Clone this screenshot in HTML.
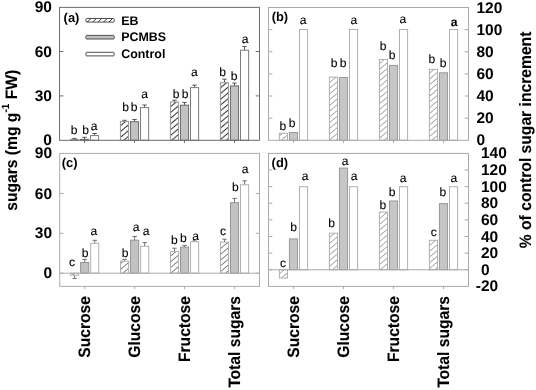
<!DOCTYPE html>
<html><head><meta charset="utf-8"><title>Sugars chart</title>
<style>html,body{margin:0;padding:0;background:#fff;}svg{display:block;font-family:"Liberation Sans", Arial, sans-serif;text-rendering:geometricPrecision;}</style></head>
<body><svg width="536" height="390" viewBox="0 0 536 390">
<rect width="536" height="390" fill="#fff"/>
<defs>
<pattern id="ha" width="4.4" height="4.4" patternUnits="userSpaceOnUse" patternTransform="rotate(-40)"><line x1="-1" y1="2.2" x2="6" y2="2.2" stroke="#333" stroke-width="1.05"/></pattern>
<pattern id="hc" width="4.4" height="4.4" patternUnits="userSpaceOnUse" patternTransform="rotate(-40)"><line x1="-1" y1="2.2" x2="6" y2="2.2" stroke="#707070" stroke-width="0.85"/></pattern>
<pattern id="hb" width="4.4" height="4.4" patternUnits="userSpaceOnUse" patternTransform="rotate(-40)"><line x1="-1" y1="2.2" x2="6" y2="2.2" stroke="#8a8a8a" stroke-width="0.7"/></pattern>
<pattern id="hl" width="3.8" height="3.8" patternUnits="userSpaceOnUse" patternTransform="rotate(-45)"><line x1="-1" y1="1.9" x2="5" y2="1.9" stroke="#333" stroke-width="1.0"/></pattern>
</defs>
<line x1="74.49" y1="139.40" x2="74.49" y2="138.40" stroke="#555" stroke-width="1.0"/>
<line x1="72.29" y1="138.40" x2="76.69" y2="138.40" stroke="#555" stroke-width="1.0"/>
<rect x="70.44" y="139.40" width="8.1" height="0.90" fill="#fff"/>
<rect x="70.44" y="139.40" width="8.1" height="0.90" fill="url(#ha)" stroke="#999" stroke-width="1.0"/>
<text x="74.20" y="133.60" font-size="12.1" text-anchor="middle" fill="#000" stroke="#000" stroke-width="0.1">b</text>
<line x1="84.54" y1="142.10" x2="84.54" y2="137.30" stroke="#555" stroke-width="1.0"/>
<line x1="82.34" y1="137.30" x2="86.74" y2="137.30" stroke="#555" stroke-width="1.0"/>
<rect x="80.49" y="139.40" width="8.1" height="0.90" fill="#c2c2c2" stroke="#6c6c6c" stroke-width="1.0"/>
<text x="85.50" y="133.60" font-size="12.1" text-anchor="middle" fill="#000" stroke="#000" stroke-width="0.1">b</text>
<line x1="94.59" y1="135.60" x2="94.59" y2="133.50" stroke="#555" stroke-width="1.0"/>
<line x1="92.39" y1="133.50" x2="96.79" y2="133.50" stroke="#555" stroke-width="1.0"/>
<rect x="90.54" y="135.60" width="8.1" height="4.70" fill="#fff" stroke="#7c7c7c" stroke-width="1.0"/>
<text x="94.00" y="129.50" font-size="12.1" text-anchor="middle" fill="#000" stroke="#000" stroke-width="0.1">a</text>
<line x1="124.48" y1="121.40" x2="124.48" y2="120.30" stroke="#555" stroke-width="1.0"/>
<line x1="122.28" y1="120.30" x2="126.68" y2="120.30" stroke="#555" stroke-width="1.0"/>
<rect x="120.43" y="121.40" width="8.1" height="18.90" fill="#fff"/>
<rect x="120.43" y="121.40" width="8.1" height="18.90" fill="url(#ha)" stroke="#999" stroke-width="1.0"/>
<text x="125.60" y="111.40" font-size="12.1" text-anchor="middle" fill="#000" stroke="#000" stroke-width="0.1">b</text>
<line x1="134.53" y1="121.70" x2="134.53" y2="119.50" stroke="#555" stroke-width="1.0"/>
<line x1="132.33" y1="119.50" x2="136.73" y2="119.50" stroke="#555" stroke-width="1.0"/>
<rect x="130.48" y="121.70" width="8.1" height="18.60" fill="#c2c2c2" stroke="#6c6c6c" stroke-width="1.0"/>
<text x="134.10" y="111.40" font-size="12.1" text-anchor="middle" fill="#000" stroke="#000" stroke-width="0.1">b</text>
<line x1="144.58" y1="107.60" x2="144.58" y2="105.00" stroke="#555" stroke-width="1.0"/>
<line x1="142.38" y1="105.00" x2="146.78" y2="105.00" stroke="#555" stroke-width="1.0"/>
<rect x="140.53" y="107.60" width="8.1" height="32.70" fill="#fff" stroke="#7c7c7c" stroke-width="1.0"/>
<text x="144.50" y="98.20" font-size="12.1" text-anchor="middle" fill="#000" stroke="#000" stroke-width="0.1">a</text>
<line x1="174.47" y1="102.00" x2="174.47" y2="100.20" stroke="#555" stroke-width="1.0"/>
<line x1="172.27" y1="100.20" x2="176.67" y2="100.20" stroke="#555" stroke-width="1.0"/>
<rect x="170.42" y="102.00" width="8.1" height="38.30" fill="#fff"/>
<rect x="170.42" y="102.00" width="8.1" height="38.30" fill="url(#ha)" stroke="#999" stroke-width="1.0"/>
<text x="176.00" y="97.70" font-size="12.1" text-anchor="middle" fill="#000" stroke="#000" stroke-width="0.1">b</text>
<line x1="184.52" y1="105.20" x2="184.52" y2="102.40" stroke="#555" stroke-width="1.0"/>
<line x1="182.32" y1="102.40" x2="186.72" y2="102.40" stroke="#555" stroke-width="1.0"/>
<rect x="180.47" y="105.20" width="8.1" height="35.10" fill="#c2c2c2" stroke="#6c6c6c" stroke-width="1.0"/>
<text x="185.10" y="97.70" font-size="12.1" text-anchor="middle" fill="#000" stroke="#000" stroke-width="0.1">b</text>
<line x1="194.57" y1="87.60" x2="194.57" y2="85.10" stroke="#555" stroke-width="1.0"/>
<line x1="192.37" y1="85.10" x2="196.77" y2="85.10" stroke="#555" stroke-width="1.0"/>
<rect x="190.52" y="87.60" width="8.1" height="52.70" fill="#fff" stroke="#7c7c7c" stroke-width="1.0"/>
<text x="194.30" y="75.70" font-size="12.1" text-anchor="middle" fill="#000" stroke="#000" stroke-width="0.1">a</text>
<line x1="224.46" y1="82.70" x2="224.46" y2="79.20" stroke="#555" stroke-width="1.0"/>
<line x1="222.26" y1="79.20" x2="226.66" y2="79.20" stroke="#555" stroke-width="1.0"/>
<rect x="220.41" y="82.70" width="8.1" height="57.60" fill="#fff"/>
<rect x="220.41" y="82.70" width="8.1" height="57.60" fill="url(#ha)" stroke="#999" stroke-width="1.0"/>
<text x="222.70" y="75.70" font-size="12.1" text-anchor="middle" fill="#000" stroke="#000" stroke-width="0.1">b</text>
<line x1="234.51" y1="85.90" x2="234.51" y2="83.10" stroke="#555" stroke-width="1.0"/>
<line x1="232.31" y1="83.10" x2="236.71" y2="83.10" stroke="#555" stroke-width="1.0"/>
<rect x="230.46" y="85.90" width="8.1" height="54.40" fill="#c2c2c2" stroke="#6c6c6c" stroke-width="1.0"/>
<text x="234.00" y="80.20" font-size="12.1" text-anchor="middle" fill="#000" stroke="#000" stroke-width="0.1">b</text>
<line x1="244.56" y1="50.20" x2="244.56" y2="46.50" stroke="#555" stroke-width="1.0"/>
<line x1="242.36" y1="46.50" x2="246.76" y2="46.50" stroke="#555" stroke-width="1.0"/>
<rect x="240.51" y="50.20" width="8.1" height="90.10" fill="#fff" stroke="#7c7c7c" stroke-width="1.0"/>
<text x="245.00" y="42.70" font-size="12.1" text-anchor="middle" fill="#000" stroke="#000" stroke-width="0.1">a</text>
<rect x="59.55" y="7.4" width="199.95" height="132.90" fill="none" stroke="#6c6c6c" stroke-width="1.0"/>
<line x1="84.54" y1="140.3" x2="84.54" y2="142.9" stroke="#6c6c6c" stroke-width="1.0"/>
<line x1="134.53" y1="140.3" x2="134.53" y2="142.9" stroke="#6c6c6c" stroke-width="1.0"/>
<line x1="184.52" y1="140.3" x2="184.52" y2="142.9" stroke="#6c6c6c" stroke-width="1.0"/>
<line x1="234.51" y1="140.3" x2="234.51" y2="142.9" stroke="#6c6c6c" stroke-width="1.0"/>
<rect x="279.40" y="133.30" width="8.1" height="7.00" fill="#fff"/>
<rect x="279.40" y="133.30" width="8.1" height="7.00" fill="url(#hb)" stroke="#b0b0b0" stroke-width="1.0"/>
<text x="282.80" y="130.10" font-size="12.1" text-anchor="middle" fill="#000" stroke="#000" stroke-width="0.1">b</text>
<rect x="289.45" y="132.50" width="8.1" height="7.80" fill="#c6c6c6" stroke="#989898" stroke-width="1.0"/>
<text x="292.10" y="127.30" font-size="12.1" text-anchor="middle" fill="#000" stroke="#000" stroke-width="0.1">b</text>
<rect x="299.50" y="29.50" width="8.1" height="110.80" fill="#fff" stroke="#b0b0b0" stroke-width="1.0"/>
<text x="303.00" y="23.80" font-size="12.1" text-anchor="middle" fill="#000" stroke="#000" stroke-width="0.1">a</text>
<rect x="329.40" y="77.10" width="8.1" height="63.20" fill="#fff"/>
<rect x="329.40" y="77.10" width="8.1" height="63.20" fill="url(#hb)" stroke="#b0b0b0" stroke-width="1.0"/>
<text x="334.00" y="67.10" font-size="12.1" text-anchor="middle" fill="#000" stroke="#000" stroke-width="0.1">b</text>
<rect x="339.45" y="77.50" width="8.1" height="62.80" fill="#c6c6c6" stroke="#989898" stroke-width="1.0"/>
<text x="343.20" y="67.10" font-size="12.1" text-anchor="middle" fill="#000" stroke="#000" stroke-width="0.1">b</text>
<rect x="349.50" y="29.50" width="8.1" height="110.80" fill="#fff" stroke="#b0b0b0" stroke-width="1.0"/>
<text x="353.90" y="23.80" font-size="12.1" text-anchor="middle" fill="#000" stroke="#000" stroke-width="0.1">a</text>
<rect x="379.40" y="59.50" width="8.1" height="80.80" fill="#fff"/>
<rect x="379.40" y="59.50" width="8.1" height="80.80" fill="url(#hb)" stroke="#b0b0b0" stroke-width="1.0"/>
<text x="383.00" y="49.90" font-size="12.1" text-anchor="middle" fill="#000" stroke="#000" stroke-width="0.1">b</text>
<rect x="389.45" y="65.40" width="8.1" height="74.90" fill="#c6c6c6" stroke="#989898" stroke-width="1.0"/>
<text x="392.00" y="58.70" font-size="12.1" text-anchor="middle" fill="#000" stroke="#000" stroke-width="0.1">b</text>
<rect x="399.50" y="29.50" width="8.1" height="110.80" fill="#fff" stroke="#b0b0b0" stroke-width="1.0"/>
<text x="402.80" y="23.40" font-size="12.1" text-anchor="middle" fill="#000" stroke="#000" stroke-width="0.1">a</text>
<rect x="429.40" y="69.40" width="8.1" height="70.90" fill="#fff"/>
<rect x="429.40" y="69.40" width="8.1" height="70.90" fill="url(#hb)" stroke="#b0b0b0" stroke-width="1.0"/>
<text x="431.90" y="63.20" font-size="12.1" text-anchor="middle" fill="#000" stroke="#000" stroke-width="0.1">b</text>
<rect x="439.45" y="72.80" width="8.1" height="67.50" fill="#c6c6c6" stroke="#989898" stroke-width="1.0"/>
<text x="443.00" y="66.70" font-size="12.1" text-anchor="middle" fill="#000" stroke="#000" stroke-width="0.1">b</text>
<rect x="449.50" y="29.50" width="8.1" height="110.80" fill="#fff" stroke="#b0b0b0" stroke-width="1.0"/>
<text x="454.00" y="25.60" font-size="12.1" text-anchor="middle" fill="#000" stroke="#000" stroke-width="0.1" font-weight="bold">a</text>
<rect x="268.5" y="7.5" width="200.00" height="132.80" fill="none" stroke="#a8a8a8" stroke-width="1.0"/>
<line x1="293.50" y1="140.3" x2="293.50" y2="142.9" stroke="#a8a8a8" stroke-width="1.0"/>
<line x1="343.50" y1="140.3" x2="343.50" y2="142.9" stroke="#a8a8a8" stroke-width="1.0"/>
<line x1="393.50" y1="140.3" x2="393.50" y2="142.9" stroke="#a8a8a8" stroke-width="1.0"/>
<line x1="443.50" y1="140.3" x2="443.50" y2="142.9" stroke="#a8a8a8" stroke-width="1.0"/>
<line x1="74.63" y1="275.20" x2="74.63" y2="278.40" stroke="#707070" stroke-width="1.0"/>
<line x1="72.43" y1="278.40" x2="76.83" y2="278.40" stroke="#707070" stroke-width="1.0"/>
<rect x="70.58" y="273.20" width="8.1" height="2.00" fill="#fff"/>
<rect x="70.58" y="273.20" width="8.1" height="2.00" fill="url(#hc)" stroke="#b0b0b0" stroke-width="1.0"/>
<text x="71.90" y="265.90" font-size="12.1" text-anchor="middle" fill="#000" stroke="#000" stroke-width="0.1">c</text>
<line x1="84.68" y1="262.50" x2="84.68" y2="259.50" stroke="#707070" stroke-width="1.0"/>
<line x1="82.48" y1="259.50" x2="86.88" y2="259.50" stroke="#707070" stroke-width="1.0"/>
<rect x="80.63" y="262.50" width="8.1" height="10.70" fill="#c2c2c2" stroke="#959595" stroke-width="1.0"/>
<text x="85.20" y="257.30" font-size="12.1" text-anchor="middle" fill="#000" stroke="#000" stroke-width="0.1">b</text>
<line x1="94.73" y1="243.30" x2="94.73" y2="240.30" stroke="#707070" stroke-width="1.0"/>
<line x1="92.53" y1="240.30" x2="96.93" y2="240.30" stroke="#707070" stroke-width="1.0"/>
<rect x="90.68" y="243.30" width="8.1" height="29.90" fill="#fff" stroke="#b0b0b0" stroke-width="1.0"/>
<text x="93.90" y="235.20" font-size="12.1" text-anchor="middle" fill="#000" stroke="#000" stroke-width="0.1">a</text>
<line x1="124.58" y1="261.20" x2="124.58" y2="259.40" stroke="#707070" stroke-width="1.0"/>
<line x1="122.38" y1="259.40" x2="126.78" y2="259.40" stroke="#707070" stroke-width="1.0"/>
<rect x="120.53" y="261.20" width="8.1" height="12.00" fill="#fff"/>
<rect x="120.53" y="261.20" width="8.1" height="12.00" fill="url(#hc)" stroke="#b0b0b0" stroke-width="1.0"/>
<text x="125.00" y="257.20" font-size="12.1" text-anchor="middle" fill="#000" stroke="#000" stroke-width="0.1">b</text>
<line x1="134.62" y1="240.20" x2="134.62" y2="236.50" stroke="#707070" stroke-width="1.0"/>
<line x1="132.43" y1="236.50" x2="136.82" y2="236.50" stroke="#707070" stroke-width="1.0"/>
<rect x="130.57" y="240.20" width="8.1" height="33.00" fill="#c2c2c2" stroke="#959595" stroke-width="1.0"/>
<text x="136.20" y="231.10" font-size="12.1" text-anchor="middle" fill="#000" stroke="#000" stroke-width="0.1">a</text>
<line x1="144.68" y1="246.20" x2="144.68" y2="242.60" stroke="#707070" stroke-width="1.0"/>
<line x1="142.48" y1="242.60" x2="146.88" y2="242.60" stroke="#707070" stroke-width="1.0"/>
<rect x="140.62" y="246.20" width="8.1" height="27.00" fill="#fff" stroke="#b0b0b0" stroke-width="1.0"/>
<text x="146.00" y="235.30" font-size="12.1" text-anchor="middle" fill="#000" stroke="#000" stroke-width="0.1">a</text>
<line x1="174.52" y1="251.40" x2="174.52" y2="248.20" stroke="#707070" stroke-width="1.0"/>
<line x1="172.32" y1="248.20" x2="176.72" y2="248.20" stroke="#707070" stroke-width="1.0"/>
<rect x="170.47" y="251.40" width="8.1" height="21.80" fill="#fff"/>
<rect x="170.47" y="251.40" width="8.1" height="21.80" fill="url(#hc)" stroke="#b0b0b0" stroke-width="1.0"/>
<text x="174.30" y="244.10" font-size="12.1" text-anchor="middle" fill="#000" stroke="#000" stroke-width="0.1">b</text>
<line x1="184.57" y1="247.10" x2="184.57" y2="245.40" stroke="#707070" stroke-width="1.0"/>
<line x1="182.38" y1="245.40" x2="186.77" y2="245.40" stroke="#707070" stroke-width="1.0"/>
<rect x="180.52" y="247.10" width="8.1" height="26.10" fill="#c2c2c2" stroke="#959595" stroke-width="1.0"/>
<text x="183.30" y="241.70" font-size="12.1" text-anchor="middle" fill="#000" stroke="#000" stroke-width="0.1">b</text>
<line x1="194.62" y1="241.70" x2="194.62" y2="241.00" stroke="#707070" stroke-width="1.0"/>
<line x1="192.43" y1="241.00" x2="196.82" y2="241.00" stroke="#707070" stroke-width="1.0"/>
<rect x="190.57" y="241.70" width="8.1" height="31.50" fill="#fff" stroke="#b0b0b0" stroke-width="1.0"/>
<text x="195.50" y="239.80" font-size="12.1" text-anchor="middle" fill="#000" stroke="#000" stroke-width="0.1">a</text>
<line x1="224.48" y1="242.10" x2="224.48" y2="239.20" stroke="#707070" stroke-width="1.0"/>
<line x1="222.28" y1="239.20" x2="226.68" y2="239.20" stroke="#707070" stroke-width="1.0"/>
<rect x="220.43" y="242.10" width="8.1" height="31.10" fill="#fff"/>
<rect x="220.43" y="242.10" width="8.1" height="31.10" fill="url(#hc)" stroke="#b0b0b0" stroke-width="1.0"/>
<text x="222.90" y="235.00" font-size="12.1" text-anchor="middle" fill="#000" stroke="#000" stroke-width="0.1">c</text>
<line x1="234.53" y1="202.70" x2="234.53" y2="198.40" stroke="#707070" stroke-width="1.0"/>
<line x1="232.33" y1="198.40" x2="236.73" y2="198.40" stroke="#707070" stroke-width="1.0"/>
<rect x="230.48" y="202.70" width="8.1" height="70.50" fill="#c2c2c2" stroke="#959595" stroke-width="1.0"/>
<text x="235.40" y="191.40" font-size="12.1" text-anchor="middle" fill="#000" stroke="#000" stroke-width="0.1">b</text>
<line x1="244.58" y1="184.80" x2="244.58" y2="180.80" stroke="#707070" stroke-width="1.0"/>
<line x1="242.38" y1="180.80" x2="246.78" y2="180.80" stroke="#707070" stroke-width="1.0"/>
<rect x="240.53" y="184.80" width="8.1" height="88.40" fill="#fff" stroke="#b0b0b0" stroke-width="1.0"/>
<text x="245.20" y="173.30" font-size="12.1" text-anchor="middle" fill="#000" stroke="#000" stroke-width="0.1">a</text>
<rect x="59.7" y="153.4" width="199.80" height="133.00" fill="none" stroke="#acacac" stroke-width="1.0"/>
<line x1="59.7" y1="273.2" x2="259.5" y2="273.2" stroke="#acacac" stroke-width="1.0"/>
<line x1="84.68" y1="286.4" x2="84.68" y2="289.0" stroke="#acacac" stroke-width="1.0"/>
<line x1="134.62" y1="286.4" x2="134.62" y2="289.0" stroke="#acacac" stroke-width="1.0"/>
<line x1="184.57" y1="286.4" x2="184.57" y2="289.0" stroke="#acacac" stroke-width="1.0"/>
<line x1="234.53" y1="286.4" x2="234.53" y2="289.0" stroke="#acacac" stroke-width="1.0"/>
<rect x="279.40" y="269.75" width="8.1" height="8.25" fill="#fff"/>
<rect x="279.40" y="269.75" width="8.1" height="8.25" fill="url(#hb)" stroke="#b0b0b0" stroke-width="1.0"/>
<text x="283.00" y="266.80" font-size="12.1" text-anchor="middle" fill="#000" stroke="#000" stroke-width="0.1">c</text>
<rect x="289.45" y="238.90" width="8.1" height="30.85" fill="#c6c6c6" stroke="#989898" stroke-width="1.0"/>
<text x="293.60" y="230.90" font-size="12.1" text-anchor="middle" fill="#000" stroke="#000" stroke-width="0.1">b</text>
<rect x="299.50" y="186.70" width="8.1" height="83.05" fill="#fff" stroke="#b0b0b0" stroke-width="1.0"/>
<text x="305.10" y="180.10" font-size="12.1" text-anchor="middle" fill="#000" stroke="#000" stroke-width="0.1">a</text>
<rect x="329.40" y="233.20" width="8.1" height="36.55" fill="#fff"/>
<rect x="329.40" y="233.20" width="8.1" height="36.55" fill="url(#hb)" stroke="#b0b0b0" stroke-width="1.0"/>
<text x="331.50" y="226.80" font-size="12.1" text-anchor="middle" fill="#000" stroke="#000" stroke-width="0.1">b</text>
<rect x="339.45" y="168.10" width="8.1" height="101.65" fill="#c6c6c6" stroke="#989898" stroke-width="1.0"/>
<text x="345.00" y="164.60" font-size="12.1" text-anchor="middle" fill="#000" stroke="#000" stroke-width="0.1">a</text>
<rect x="349.50" y="186.70" width="8.1" height="83.05" fill="#fff" stroke="#b0b0b0" stroke-width="1.0"/>
<text x="354.20" y="180.10" font-size="12.1" text-anchor="middle" fill="#000" stroke="#000" stroke-width="0.1">a</text>
<rect x="379.40" y="212.10" width="8.1" height="57.65" fill="#fff"/>
<rect x="379.40" y="212.10" width="8.1" height="57.65" fill="url(#hb)" stroke="#b0b0b0" stroke-width="1.0"/>
<text x="382.80" y="208.50" font-size="12.1" text-anchor="middle" fill="#000" stroke="#000" stroke-width="0.1">b</text>
<rect x="389.45" y="201.00" width="8.1" height="68.75" fill="#c6c6c6" stroke="#989898" stroke-width="1.0"/>
<text x="392.00" y="196.00" font-size="12.1" text-anchor="middle" fill="#000" stroke="#000" stroke-width="0.1">b</text>
<rect x="399.50" y="186.70" width="8.1" height="83.05" fill="#fff" stroke="#b0b0b0" stroke-width="1.0"/>
<text x="403.00" y="182.40" font-size="12.1" text-anchor="middle" fill="#000" stroke="#000" stroke-width="0.1">a</text>
<rect x="429.40" y="240.30" width="8.1" height="29.45" fill="#fff"/>
<rect x="429.40" y="240.30" width="8.1" height="29.45" fill="url(#hb)" stroke="#b0b0b0" stroke-width="1.0"/>
<text x="433.70" y="235.50" font-size="12.1" text-anchor="middle" fill="#000" stroke="#000" stroke-width="0.1">c</text>
<rect x="439.45" y="203.60" width="8.1" height="66.15" fill="#c6c6c6" stroke="#989898" stroke-width="1.0"/>
<text x="442.90" y="196.00" font-size="12.1" text-anchor="middle" fill="#000" stroke="#000" stroke-width="0.1">b</text>
<rect x="449.50" y="186.70" width="8.1" height="83.05" fill="#fff" stroke="#b0b0b0" stroke-width="1.0"/>
<text x="453.90" y="182.40" font-size="12.1" text-anchor="middle" fill="#000" stroke="#000" stroke-width="0.1">a</text>
<rect x="268.5" y="153.4" width="200.00" height="133.00" fill="none" stroke="#a8a8a8" stroke-width="1.0"/>
<line x1="268.5" y1="269.75" x2="468.5" y2="269.75" stroke="#a8a8a8" stroke-width="1.0"/>
<line x1="293.50" y1="286.4" x2="293.50" y2="289.0" stroke="#a8a8a8" stroke-width="1.0"/>
<line x1="343.50" y1="286.4" x2="343.50" y2="289.0" stroke="#a8a8a8" stroke-width="1.0"/>
<line x1="393.50" y1="286.4" x2="393.50" y2="289.0" stroke="#a8a8a8" stroke-width="1.0"/>
<line x1="443.50" y1="286.4" x2="443.50" y2="289.0" stroke="#a8a8a8" stroke-width="1.0"/>
<text x="51.95" y="145.35" font-size="15.5" font-weight="bold" text-anchor="end">0</text>
<line x1="59.55" y1="95.90" x2="63.349999999999994" y2="95.90" stroke="#6c6c6c" stroke-width="1.0"/>
<line x1="259.5" y1="95.90" x2="255.7" y2="95.90" stroke="#6c6c6c" stroke-width="1.0"/>
<text x="51.95" y="100.95" font-size="15.5" font-weight="bold" text-anchor="end">30</text>
<line x1="59.55" y1="51.50" x2="63.349999999999994" y2="51.50" stroke="#6c6c6c" stroke-width="1.0"/>
<line x1="259.5" y1="51.50" x2="255.7" y2="51.50" stroke="#6c6c6c" stroke-width="1.0"/>
<text x="51.95" y="56.55" font-size="15.5" font-weight="bold" text-anchor="end">60</text>
<text x="51.95" y="12.45" font-size="15.5" font-weight="bold" text-anchor="end">90</text>
<line x1="59.7" y1="273.20" x2="63.5" y2="273.20" stroke="#acacac" stroke-width="1.0"/>
<line x1="259.5" y1="273.20" x2="255.7" y2="273.20" stroke="#acacac" stroke-width="1.0"/>
<text x="52.10" y="278.25" font-size="15.5" font-weight="bold" text-anchor="end">0</text>
<line x1="59.7" y1="233.30" x2="63.5" y2="233.30" stroke="#acacac" stroke-width="1.0"/>
<line x1="259.5" y1="233.30" x2="255.7" y2="233.30" stroke="#acacac" stroke-width="1.0"/>
<text x="52.10" y="238.35" font-size="15.5" font-weight="bold" text-anchor="end">30</text>
<line x1="59.7" y1="193.50" x2="63.5" y2="193.50" stroke="#acacac" stroke-width="1.0"/>
<line x1="259.5" y1="193.50" x2="255.7" y2="193.50" stroke="#acacac" stroke-width="1.0"/>
<text x="52.10" y="198.55" font-size="15.5" font-weight="bold" text-anchor="end">60</text>
<text x="52.10" y="158.45" font-size="15.5" font-weight="bold" text-anchor="end">90</text>
<text x="476.50" y="145.35" font-size="15.5" font-weight="bold" text-anchor="start">0</text>
<line x1="268.5" y1="118.17" x2="272.3" y2="118.17" stroke="#a8a8a8" stroke-width="1.0"/>
<line x1="468.5" y1="118.17" x2="464.7" y2="118.17" stroke="#a8a8a8" stroke-width="1.0"/>
<text x="476.50" y="123.22" font-size="15.5" font-weight="bold" text-anchor="start">20</text>
<line x1="268.5" y1="96.03" x2="272.3" y2="96.03" stroke="#a8a8a8" stroke-width="1.0"/>
<line x1="468.5" y1="96.03" x2="464.7" y2="96.03" stroke="#a8a8a8" stroke-width="1.0"/>
<text x="476.50" y="101.08" font-size="15.5" font-weight="bold" text-anchor="start">40</text>
<line x1="268.5" y1="73.90" x2="272.3" y2="73.90" stroke="#a8a8a8" stroke-width="1.0"/>
<line x1="468.5" y1="73.90" x2="464.7" y2="73.90" stroke="#a8a8a8" stroke-width="1.0"/>
<text x="476.50" y="78.95" font-size="15.5" font-weight="bold" text-anchor="start">60</text>
<line x1="268.5" y1="51.76" x2="272.3" y2="51.76" stroke="#a8a8a8" stroke-width="1.0"/>
<line x1="468.5" y1="51.76" x2="464.7" y2="51.76" stroke="#a8a8a8" stroke-width="1.0"/>
<text x="476.50" y="56.81" font-size="15.5" font-weight="bold" text-anchor="start">80</text>
<line x1="268.5" y1="29.63" x2="272.3" y2="29.63" stroke="#a8a8a8" stroke-width="1.0"/>
<line x1="468.5" y1="29.63" x2="464.7" y2="29.63" stroke="#a8a8a8" stroke-width="1.0"/>
<text x="476.50" y="34.68" font-size="15.5" font-weight="bold" text-anchor="start">100</text>
<text x="476.50" y="12.55" font-size="15.5" font-weight="bold" text-anchor="start">120</text>
<text x="475.74" y="291.43" font-size="15.5" font-weight="bold" text-anchor="start">-20</text>
<line x1="268.5" y1="269.75" x2="272.3" y2="269.75" stroke="#a8a8a8" stroke-width="1.0"/>
<line x1="468.5" y1="269.75" x2="464.7" y2="269.75" stroke="#a8a8a8" stroke-width="1.0"/>
<text x="480.90" y="274.80" font-size="15.5" font-weight="bold" text-anchor="start">0</text>
<line x1="268.5" y1="253.12" x2="272.3" y2="253.12" stroke="#a8a8a8" stroke-width="1.0"/>
<line x1="468.5" y1="253.12" x2="464.7" y2="253.12" stroke="#a8a8a8" stroke-width="1.0"/>
<text x="480.90" y="258.18" font-size="15.5" font-weight="bold" text-anchor="start">20</text>
<line x1="268.5" y1="236.50" x2="272.3" y2="236.50" stroke="#a8a8a8" stroke-width="1.0"/>
<line x1="468.5" y1="236.50" x2="464.7" y2="236.50" stroke="#a8a8a8" stroke-width="1.0"/>
<text x="480.90" y="241.55" font-size="15.5" font-weight="bold" text-anchor="start">40</text>
<line x1="268.5" y1="219.88" x2="272.3" y2="219.88" stroke="#a8a8a8" stroke-width="1.0"/>
<line x1="468.5" y1="219.88" x2="464.7" y2="219.88" stroke="#a8a8a8" stroke-width="1.0"/>
<text x="480.90" y="224.93" font-size="15.5" font-weight="bold" text-anchor="start">60</text>
<line x1="268.5" y1="203.25" x2="272.3" y2="203.25" stroke="#a8a8a8" stroke-width="1.0"/>
<line x1="468.5" y1="203.25" x2="464.7" y2="203.25" stroke="#a8a8a8" stroke-width="1.0"/>
<text x="480.90" y="208.30" font-size="15.5" font-weight="bold" text-anchor="start">80</text>
<line x1="268.5" y1="186.62" x2="272.3" y2="186.62" stroke="#a8a8a8" stroke-width="1.0"/>
<line x1="468.5" y1="186.62" x2="464.7" y2="186.62" stroke="#a8a8a8" stroke-width="1.0"/>
<text x="480.90" y="191.68" font-size="15.5" font-weight="bold" text-anchor="start">100</text>
<line x1="268.5" y1="170.00" x2="272.3" y2="170.00" stroke="#a8a8a8" stroke-width="1.0"/>
<line x1="468.5" y1="170.00" x2="464.7" y2="170.00" stroke="#a8a8a8" stroke-width="1.0"/>
<text x="480.90" y="175.05" font-size="15.5" font-weight="bold" text-anchor="start">120</text>
<text x="480.90" y="158.43" font-size="15.5" font-weight="bold" text-anchor="start">140</text>
<text x="63.6" y="22" font-size="12.9" font-weight="bold">(a)</text>
<text x="271.7" y="20.5" font-size="12.9" font-weight="bold">(b)</text>
<text x="61.7" y="166.9" font-size="12.9" font-weight="bold">(c)</text>
<text x="271.6" y="167.0" font-size="12.9" font-weight="bold">(d)</text>
<clipPath id="lc"><rect x="85.9" y="18.5" width="28.3" height="3.6" rx="0.8"/></clipPath>
<rect x="85.9" y="18.50" width="28.3" height="3.6" rx="0.8" fill="#fff" stroke="#505050" stroke-width="1"/>
<path d="M81.20 22.80 l5 -5 M86.60 22.80 l5 -5 M92.00 22.80 l5 -5 M97.40 22.80 l5 -5 M102.80 22.80 l5 -5 M108.20 22.80 l5 -5 M113.60 22.80 l5 -5 " stroke="#2a2a2a" stroke-width="0.95" fill="none" clip-path="url(#lc)"/>
<text x="121.2" y="24.60" font-size="12.45" font-weight="bold">EB</text>
<rect x="85.9" y="35.40" width="28.3" height="3.6" rx="0.8" fill="#c2c2c2" stroke="#505050" stroke-width="1"/>
<text x="121.2" y="41.35" font-size="12.45" font-weight="bold">PCMBS</text>
<rect x="85.9" y="52.30" width="28.3" height="3.6" rx="0.8" fill="#fff" stroke="#505050" stroke-width="1"/>
<text x="121.2" y="58.10" font-size="12.45" font-weight="bold">Control</text>
<text transform="translate(89.98,296) rotate(-90) scale(1,1.055)" font-size="15.65" font-weight="bold" text-anchor="end" stroke="#000" stroke-width="0.1">Sucrose</text>
<text transform="translate(139.93,296) rotate(-90) scale(1,1.055)" font-size="15.65" font-weight="bold" text-anchor="end" stroke="#000" stroke-width="0.1">Glucose</text>
<text transform="translate(189.88,296) rotate(-90) scale(1,1.055)" font-size="15.65" font-weight="bold" text-anchor="end" stroke="#000" stroke-width="0.1">Fructose</text>
<text transform="translate(239.83,296) rotate(-90) scale(1,1.055)" font-size="15.65" font-weight="bold" text-anchor="end" stroke="#000" stroke-width="0.1">Total sugars</text>
<text transform="translate(298.80,296) rotate(-90) scale(1,1.055)" font-size="15.65" font-weight="bold" text-anchor="end" stroke="#000" stroke-width="0.1">Sucrose</text>
<text transform="translate(348.80,296) rotate(-90) scale(1,1.055)" font-size="15.65" font-weight="bold" text-anchor="end" stroke="#000" stroke-width="0.1">Glucose</text>
<text transform="translate(398.80,296) rotate(-90) scale(1,1.055)" font-size="15.65" font-weight="bold" text-anchor="end" stroke="#000" stroke-width="0.1">Fructose</text>
<text transform="translate(448.80,296) rotate(-90) scale(1,1.055)" font-size="15.65" font-weight="bold" text-anchor="end" stroke="#000" stroke-width="0.1">Total sugars</text>
<text transform="translate(16.8,69.8) rotate(-90) scale(1,1.055)" font-size="15.65" font-weight="bold" text-anchor="end" stroke="#000" stroke-width="0.1">sugars (mg g<tspan dy="-7.5" font-size="10">-1</tspan><tspan dy="7.5"> FW)</tspan></text>
<text transform="translate(531.4,31.6) rotate(-90) scale(1,1.055)" font-size="15.67" font-weight="bold" text-anchor="end" stroke="#000" stroke-width="0.1">% of control sugar increment</text>
</svg></body></html>
